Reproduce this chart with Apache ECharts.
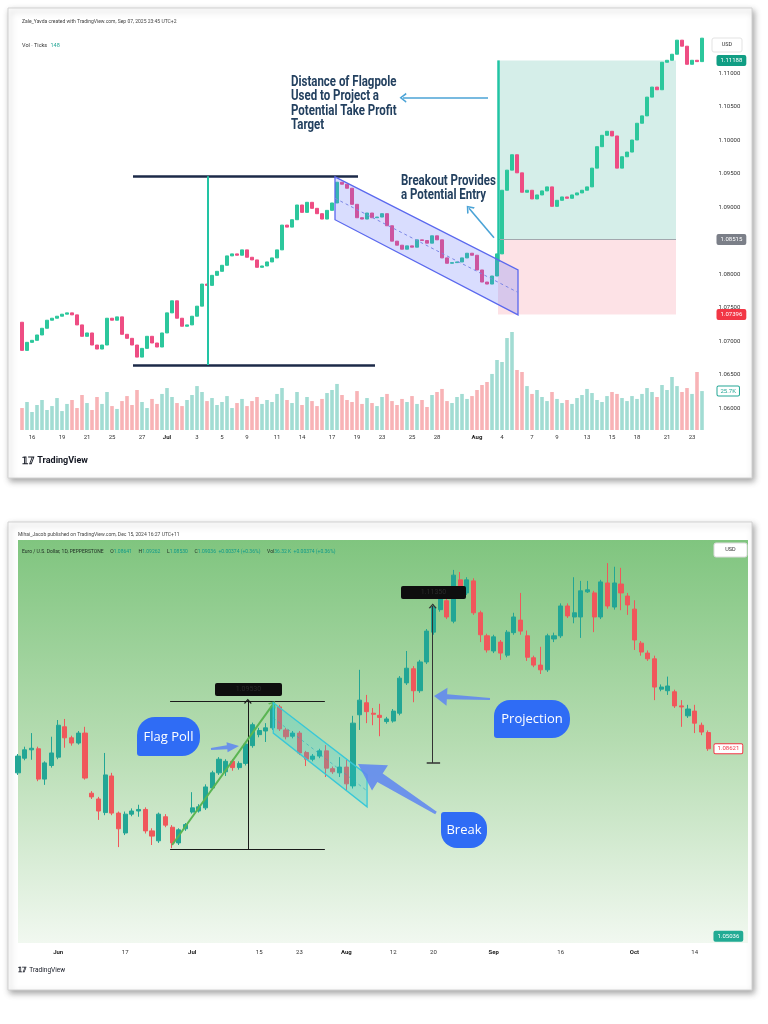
<!DOCTYPE html>
<html>
<head>
<meta charset="utf-8">
<title>Bull flag examples</title>
<script src="https://cdn.jsdelivr.net/npm/echarts@6.0.0/dist/echarts.min.js"></script>
<style>
  html, body { margin: 0; padding: 0; background: #fff; }
  #chart { width: 768px; height: 1024px; }
</style>
</head>
<body>
<div id="chart"></div>
<script>
// ---- top chart (EUR/USD, intraday) : closes, one candle ~ every 5px
var topFirstOpen = 1.0728;
var topCloses = [
  1.0686, 1.0698, 1.0701, 1.0709, 1.0719, 1.0731, 1.0734, 1.0737, 1.0740, 1.0742,
  1.0739, 1.0724, 1.0707, 1.0712, 1.0694, 1.0688, 1.0694, 1.0734, 1.0731, 1.0736,
  1.0710, 1.0704, 1.0694, 1.0676, 1.0689, 1.0707, 1.0697, 1.0691, 1.0712, 1.0742,
  1.0760, 1.0734, 1.0722, 1.0724, 1.0737, 1.0752, 1.0785, 1.0783, 1.0798, 1.0804,
  1.0813, 1.0827, 1.0830, 1.0828, 1.0836, 1.0825, 1.0821, 1.0810, 1.0812, 1.0818,
  1.0824, 1.0836, 1.0873, 1.0870, 1.0881, 1.0903, 1.0892, 1.0907, 1.0898, 1.0890,
  1.0882, 1.0895, 1.0906, 1.0937, 1.0934, 1.0928, 1.0904, 1.0884, 1.0882, 1.0891,
  1.0884, 1.0885, 1.0890, 1.0872, 1.0849, 1.0843, 1.0837, 1.0842, 1.0840, 1.0851,
  1.0850, 1.0846, 1.0857, 1.0851, 1.0824, 1.0816, 1.0817, 1.0818, 1.0824, 1.0831,
  1.0828, 1.0806, 1.0788, 1.0785, 1.0797, 1.0830, 1.0925, 1.0955, 1.0978, 1.0951,
  1.0922, 1.0925, 1.0912, 1.0918, 1.0924, 1.0930, 1.0901, 1.0910, 1.0915, 1.0913,
  1.0918, 1.0921, 1.0925, 1.0930, 1.0958, 1.0990, 1.1007, 1.1013, 1.1006, 1.0958,
  1.0975, 1.0982, 1.1000, 1.1025, 1.1036, 1.1064, 1.1079, 1.1075, 1.1116, 1.1119,
  1.1128, 1.1149, 1.1140, 1.1113, 1.1119, 1.1117, 1.1152
];
// volume in K ticks
var topVolumes = [
  14.5, 18.5, 11.9, 16.5, 19.8, 13.2, 15.8, 21.1, 12.5, 17.2,
  19.8, 14.5, 23.1, 17.8, 13.2, 21.8, 17.2, 25.1, 15.8, 13.9,
  19.1, 22.4, 16.5, 26.4, 18.5, 14.5, 20.5, 17.2, 23.8, 27.7,
  21.8, 17.8, 15.8, 19.8, 23.1, 29.0, 25.1, 19.1, 21.1, 16.5,
  18.5, 22.4, 14.5, 17.8, 20.5, 15.8, 19.1, 21.8, 17.2, 19.8,
  18.5, 23.8, 27.7, 19.8, 17.8, 25.1, 16.5, 21.8, 19.1, 15.8,
  20.5, 24.4, 26.4, 30.4, 23.1, 19.8, 18.5, 25.7, 17.2, 21.1,
  17.8, 15.8, 21.8, 23.8, 19.1, 16.5, 20.5, 18.5, 22.4, 17.2,
  19.8, 15.2, 23.1, 25.1, 27.1, 19.1, 17.8, 21.8, 23.8, 20.5,
  22.4, 26.4, 29.7, 31.7, 37.0, 46.2, 44.9, 60.7, 64.7, 39.6,
  38.3, 29.0, 23.8, 26.4, 21.8, 19.1, 25.1, 20.5, 17.8, 19.8,
  17.2, 21.1, 23.1, 27.1, 24.4, 19.8, 18.5, 22.4, 25.1, 23.8,
  21.1, 19.1, 22.4, 20.5, 23.8, 27.7, 25.1, 21.8, 29.7, 26.4,
  35.0, 29.0, 25.1, 27.7, 23.8, 38.3, 25.7
];
var topTickIdx  = [2, 8, 13, 18, 24, 29, 35, 40, 45, 51, 56, 62, 67, 72, 78, 83, 91, 96, 102, 107, 113, 118, 123, 129, 134];
var topTickText = ['16', '19', '21', '25', '27', 'Jul', '3', '5', '9', '11', '14', '17', '19', '23', '25', '28', 'Aug', '4', '7', '9', '13', '15', '18', '21', '23'];

// ---- bottom chart (EUR/USD daily) : [open, close, low, high]
var botCandles = [
  [1.0816, 1.0848, 1.0812, 1.0852], [1.0844, 1.0860, 1.0840, 1.0866], [1.0860, 1.0863, 1.0841, 1.0892],
  [1.0862, 1.0804, 1.0800, 1.0866], [1.0804, 1.0835, 1.0793, 1.0838], [1.0830, 1.0854, 1.0826, 1.0885],
  [1.0846, 1.0907, 1.0842, 1.0917], [1.0904, 1.0883, 1.0864, 1.0919], [1.0883, 1.0873, 1.0868, 1.0887],
  [1.0873, 1.0892, 1.0870, 1.0896], [1.0892, 1.0806, 1.0803, 1.0904], [1.0777, 1.0770, 1.0766, 1.0781],
  [1.0766, 1.0743, 1.0726, 1.0770], [1.0740, 1.0812, 1.0735, 1.0854], [1.0810, 1.0739, 1.0735, 1.0816],
  [1.0739, 1.0709, 1.0674, 1.0742], [1.0701, 1.0737, 1.0697, 1.0742], [1.0737, 1.0743, 1.0733, 1.0748],
  [1.0743, 1.0746, 1.0732, 1.0755], [1.0746, 1.0705, 1.0700, 1.0750], [1.0705, 1.0695, 1.0678, 1.0710],
  [1.0686, 1.0737, 1.0682, 1.0740], [1.0732, 1.0716, 1.0712, 1.0737], [1.0712, 1.0682, 1.0672, 1.0716],
  [1.0682, 1.0707, 1.0678, 1.0710], [1.0709, 1.0717, 1.0705, 1.0720], [1.0741, 1.0749, 1.0738, 1.0779],
  [1.0743, 1.0751, 1.0740, 1.0756], [1.0749, 1.0789, 1.0745, 1.0794], [1.0787, 1.0816, 1.0783, 1.0820],
  [1.0816, 1.0842, 1.0812, 1.0846], [1.0818, 1.0838, 1.0810, 1.0842], [1.0838, 1.0826, 1.0820, 1.0842],
  [1.0826, 1.0834, 1.0822, 1.0838], [1.0834, 1.0871, 1.0830, 1.0875], [1.0868, 1.0908, 1.0864, 1.0912],
  [1.0889, 1.0897, 1.0884, 1.0902], [1.0896, 1.0902, 1.0875, 1.0911], [1.0902, 1.0942, 1.0898, 1.0950],
  [1.0942, 1.0900, 1.0896, 1.0946], [1.0898, 1.0885, 1.0880, 1.0902], [1.0886, 1.0892, 1.0882, 1.0896],
  [1.0892, 1.0854, 1.0850, 1.0896], [1.0855, 1.0842, 1.0829, 1.0858], [1.0842, 1.0848, 1.0838, 1.0852],
  [1.0848, 1.0858, 1.0844, 1.0862], [1.0858, 1.0825, 1.0808, 1.0869], [1.0824, 1.0818, 1.0814, 1.0828],
  [1.0816, 1.0827, 1.0808, 1.0846], [1.0827, 1.0795, 1.0783, 1.0841], [1.0791, 1.0911, 1.0786, 1.0925],
  [1.0927, 1.0955, 1.0898, 1.1013], [1.0950, 1.0933, 1.0911, 1.0965], [1.0930, 1.0928, 1.0907, 1.0940],
  [1.0926, 1.0922, 1.0886, 1.0948], [1.0914, 1.0919, 1.0910, 1.0923], [1.0915, 1.0934, 1.0912, 1.0938],
  [1.0930, 1.0997, 1.0926, 1.1001], [1.0988, 1.1016, 1.0984, 1.1049], [1.1015, 1.0973, 1.0951, 1.1020],
  [1.0973, 1.1028, 1.0969, 1.1032], [1.1028, 1.1087, 1.1024, 1.1091], [1.1085, 1.1133, 1.1080, 1.1138],
  [1.1128, 1.1152, 1.1124, 1.1160], [1.1145, 1.1114, 1.1110, 1.1150], [1.1106, 1.1194, 1.1102, 1.1204],
  [1.1185, 1.1162, 1.1158, 1.1200], [1.1160, 1.1185, 1.1156, 1.1190], [1.1183, 1.1122, 1.1118, 1.1188],
  [1.1122, 1.1080, 1.1066, 1.1126], [1.1078, 1.1051, 1.1046, 1.1082], [1.1049, 1.1076, 1.1045, 1.1080],
  [1.1066, 1.1045, 1.1032, 1.1070], [1.1041, 1.1085, 1.1037, 1.1089], [1.1084, 1.1114, 1.1080, 1.1122],
  [1.1108, 1.1087, 1.1080, 1.1160], [1.1078, 1.1037, 1.1030, 1.1088], [1.1036, 1.1022, 1.1018, 1.1040],
  [1.1022, 1.1013, 1.1005, 1.1057], [1.1013, 1.1078, 1.1009, 1.1082], [1.1072, 1.1078, 1.1066, 1.1084],
  [1.1078, 1.1135, 1.1074, 1.1140], [1.1135, 1.1116, 1.1112, 1.1140], [1.1114, 1.1122, 1.1102, 1.1190],
  [1.1114, 1.1164, 1.1074, 1.1183], [1.1162, 1.1166, 1.1160, 1.1183], [1.1160, 1.1114, 1.1085, 1.1164],
  [1.1114, 1.1181, 1.1110, 1.1185], [1.1179, 1.1135, 1.1130, 1.1217], [1.1133, 1.1179, 1.1128, 1.1210],
  [1.1177, 1.1160, 1.1127, 1.1208], [1.1154, 1.1137, 1.1118, 1.1160], [1.1129, 1.1070, 1.1051, 1.1146],
  [1.1064, 1.1047, 1.1040, 1.1068], [1.1045, 1.1034, 1.1030, 1.1050], [1.1034, 1.0980, 1.0955, 1.1040],
  [1.0976, 1.0980, 1.0972, 1.0985], [1.0973, 1.0982, 1.0965, 1.1000], [1.0971, 1.0944, 1.0940, 1.0975],
  [1.0944, 1.0942, 1.0904, 1.0955], [1.0925, 1.0938, 1.0921, 1.0946], [1.0934, 1.0911, 1.0892, 1.0946],
  [1.0907, 1.0894, 1.0888, 1.0912], [1.0893, 1.0862, 1.0858, 1.0897]
];
var botTickIdx  = [6, 16, 26, 36, 42, 49, 56, 62, 71, 81, 92, 101];
var botTickText = ['Jun', '17', 'Jul', '15', '23', 'Aug', '12', '20', 'Sep', '16', 'Oct', '14'];

// drawings (x in candle index, y in price)
var topDraw = {
  poleTop: 1.0946, poleBottom: 1.0664, poleX: 37.2, barFrom: 22.2, barTopTo: 67.2, barBottomTo: 70.6,
  channel: [[62.6, 1.0945], [99.2, 1.0806], [99.2, 1.0739], [62.6, 1.0881]],
  target: 1.11188, entry: 1.08515, stop: 1.07396, posFrom: 95.2, posTo: 130.8, projBottom: 1.0818,
  arrow1: [[93.2, 1.1063], [76.2, 1.1063]], arrow2: [[94.4, 1.0854], [89.4, 1.0898]]
};
var botDraw = {
  poleLow: 1.0670, poleHigh: 1.0953, barFrom: 22.7, barTo: 45.8, measureX: 34.3,
  green: [[23.0, 1.0678], [38.1, 1.0948]],
  channel: [[38.1, 1.0950], [52.1, 1.0812], [52.1, 1.0751], [38.1, 1.0892]],
  projX: 61.9, projLow: 1.0835, projHigh: 1.1135, capFrom: 61.0, capTo: 63.0,
  lastPrice: 1.08621, lowTag: 1.05036
};

// ---------------------------------------------------------------
var UP = '#2cc79c', DOWN = '#ee4d83';
var UP2 = '#22a695', DOWN2 = '#f0575b';
var FONT = 'Roboto';

var topOHLC = topCloses.map(function (c, i) {
  var o = i === 0 ? topFirstOpen : topCloses[i - 1];
  return [o, c, Math.min(o, c), Math.max(o, c)];
});
var topVolData = topVolumes.map(function (v, i) {
  var up = topOHLC[i][1] >= topOHLC[i][0];
  return { value: v, itemStyle: { color: up ? '#a2dcd3' : '#f8b3b6' } };
});
var topCats = [];
for (var i = 0; i < topCloses.length + 2; i++) topCats.push(String(i));
var botCats = botCandles.map(function (d, i) { return String(i); });

function tickMap(idx, text) {
  var m = {};
  idx.forEach(function (k, j) { m[k] = text[j]; });
  return m;
}
var topTicks = tickMap(topTickIdx, topTickText);
var botTicks = tickMap(botTickIdx, botTickText);
var months = { Jun: 1, Jul: 1, Aug: 1, Sep: 1, Oct: 1 };
function tickLabel(map) {
  return function (val) {
    var t = map[+val];
    if (t == null) return '';
    return months[t] ? '{m|' + t + '}' : t;
  };
}

var chevron = 'path://M0,10 L5,0 L10,10 L8.4,10.9 L5,3.7 L1.6,10.9 Z';
function seg(a, b, color, width, head, size) {
  return [
    { coord: a, symbol: 'none', lineStyle: { color: color, width: width, type: 'solid', opacity: 1 } },
    { coord: b, symbol: head ? chevron : 'none', symbolSize: head ? (size || [10, 7]) : 0 }
  ];
}
function priceTag(v, bg, fg, border, text) {
  return {
    yAxis: v, symbol: 'none',
    lineStyle: { color: 'rgba(0,0,0,0)', width: 1 },
    label: {
      show: true, position: 'end', formatter: text || v.toFixed(5), color: fg,
      backgroundColor: bg, borderColor: border || bg, borderWidth: 1, borderRadius: 1,
      padding: [2, 3, 1, 3], fontSize: 6, distance: 3, fontFamily: FONT
    }
  };
}
function channelRender(corners, fill, stroke, mid) {
  return function (params, api) {
    var pts = corners.map(function (p) { return api.coord(p); });
    var m1 = api.coord([corners[0][0], (corners[0][1] + corners[3][1]) / 2]);
    var m2 = api.coord([corners[1][0], (corners[1][1] + corners[2][1]) / 2]);
    return {
      type: 'group', children: [
        { type: 'polygon', shape: { points: pts }, style: { fill: fill, stroke: stroke, lineWidth: 1.3 } },
        { type: 'line', shape: { x1: m1[0], y1: m1[1], x2: m2[0], y2: m2[1] },
          style: { stroke: mid, lineWidth: 1, lineDash: [3, 3] } }
      ]
    };
  };
}
function fatArrow(tail, tip, headLen, headW, wTail, wHead) {
  var dx = tip[0] - tail[0], dy = tip[1] - tail[1], L = Math.sqrt(dx * dx + dy * dy);
  var ux = dx / L, uy = dy / L, nx = -uy, ny = ux;
  var bx = tip[0] - ux * headLen, by = tip[1] - uy * headLen;
  return [
    [tail[0] + nx * wTail / 2, tail[1] + ny * wTail / 2],
    [bx + nx * wHead / 2, by + ny * wHead / 2],
    [bx + nx * headW / 2, by + ny * headW / 2],
    tip,
    [bx - nx * headW / 2, by - ny * headW / 2],
    [bx - nx * wHead / 2, by - ny * wHead / 2],
    [tail[0] - nx * wTail / 2, tail[1] - ny * wTail / 2]
  ];
}

var T = topDraw, B = botDraw;
var NAVY = '#1c2a48', BLUE = '#4ba3d6', TEAL = '#22c4a4', BLACK = '#1a1a1a';
var arrowFill = 'rgba(96,136,240,0.88)';
var annoFont = 'bold 14px ' + FONT;
var bubble = '#2f6cf5';

var chart = echarts.init(document.getElementById('chart'));
var option = {
  animation: false,
  backgroundColor: '#ffffff',
  textStyle: { fontFamily: FONT },
  grid: [
    { left: 19.5, top: 6, width: 695, height: 435.5 },            // top price
    { left: 19.5, top: 330, width: 695, height: 100 },            // top volume
    { left: 14.65, top: 545.85, width: 696.8, height: 392.25 }    // bottom price
  ],
  xAxis: [
    { type: 'category', gridIndex: 0, data: topCats, show: false },
    { type: 'category', gridIndex: 1, data: topCats,
      axisLine: { show: false }, axisTick: { show: false }, splitLine: { show: false },
      axisLabel: { interval: function (i) { return topTicks[i] != null; }, formatter: tickLabel(topTicks),
        fontSize: 6, color: '#333', margin: 4, rich: { m: { fontSize: 6, fontWeight: 'bold', color: '#222' } } } },
    { type: 'value', gridIndex: 0, min: -0.5, max: topCats.length - 0.5, show: false },
    { type: 'category', gridIndex: 2, data: botCats,
      axisLine: { show: false }, axisTick: { show: false },
      splitLine: { show: true, interval: function (i) { return botTicks[i] != null; },
        lineStyle: { color: 'rgba(255,255,255,0.28)', width: 1 } },
      axisLabel: { interval: function (i) { return botTicks[i] != null; }, formatter: tickLabel(botTicks),
        fontSize: 6, color: '#333', margin: 11, rich: { m: { fontSize: 6, fontWeight: 'bold', color: '#222' } } } },
    { type: 'value', gridIndex: 2, min: -0.5, max: botCats.length - 0.5, show: false }
  ],
  yAxis: [
    { type: 'value', gridIndex: 0, position: 'right', min: 1.055, max: 1.12, interval: 0.005,
      axisLine: { show: false }, axisTick: { show: false }, splitLine: { show: false },
      axisLabel: { fontSize: 6, color: '#333', margin: 4,
        formatter: function (v) { return (v < 1.0595 || v > 1.1105) ? '' : v.toFixed(5); } } },
    { type: 'value', gridIndex: 1, min: 0, max: 66, show: false },
    { type: 'value', gridIndex: 2, position: 'right', min: 1.05, max: 1.125, interval: 0.005,
      axisLine: { show: false }, axisTick: { show: false },
      splitLine: { show: true, lineStyle: { color: 'rgba(255,255,255,0.28)', width: 1 } },
      axisLabel: { fontSize: 6, color: '#333', margin: 5,
        formatter: function (v) { return (v < 1.0545 || v > 1.1205) ? '' : v.toFixed(5); } } }
  ],
  series: [
    // position tool (under candles)
    { type: 'custom', xAxisIndex: 2, yAxisIndex: 0, z: 1, data: [[0, 1.09]],
      renderItem: function () { return { type: 'group', children: [] }; },
      markArea: { silent: true, data: [
        [{ coord: [T.posFrom, T.target], itemStyle: { color: 'rgba(34,166,140,0.19)' } }, { coord: [T.posTo, T.entry] }],
        [{ coord: [T.posFrom, T.entry], itemStyle: { color: 'rgba(244,82,104,0.17)' } }, { coord: [T.posTo, T.stop] }]
      ] },
      markLine: { silent: true, precision: 6, symbol: ['none', 'none'], label: { show: false },
        data: [seg([T.posFrom, T.entry], [T.posTo, T.entry], '#a3a7ae', 1)] }
    },
    { type: 'candlestick', xAxisIndex: 0, yAxisIndex: 0, z: 2, data: topOHLC, barWidth: 2.6,
      itemStyle: { color: UP, color0: DOWN, borderColor: UP, borderColor0: DOWN, borderWidth: 1 } },
    { type: 'bar', xAxisIndex: 1, yAxisIndex: 1, data: topVolData, barWidth: 3.6,
      markLine: { silent: true, precision: 2, symbol: ['none', 'none'],
        data: [priceTag(topVolumes[topVolumes.length - 1], '#ffffff', '#22a695', '#22a695', '25.7K')] } },
    // flag channel + drawings
    { type: 'custom', xAxisIndex: 2, yAxisIndex: 0, z: 5, data: [[0, 1.09]],
      renderItem: channelRender(T.channel, 'rgba(96,112,250,0.24)', '#5a68ee', '#7b86e6'),
      markLine: { silent: true, precision: 6, symbol: ['none', 'none'], label: { show: false }, data: [
        seg([T.barFrom, T.poleTop], [T.barTopTo, T.poleTop], NAVY, 2.5),
        seg([T.barFrom, T.poleBottom], [T.barBottomTo, T.poleBottom], NAVY, 2.5),
        seg([T.poleX, T.poleTop], [T.poleX, T.poleBottom], TEAL, 2),
        seg([T.posFrom, T.target], [T.posFrom, T.projBottom], TEAL, 2.5),
        seg(T.arrow1[0], T.arrow1[1], BLUE, 1.6, true),
        seg(T.arrow2[0], T.arrow2[1], BLUE, 1.6, true),
        priceTag(T.target, '#119e84', '#fff'),
        priceTag(T.entry, '#7b7f88', '#fff'),
        priceTag(T.stop, '#f23645', '#fff')
      ] }
    },
    { type: 'candlestick', xAxisIndex: 3, yAxisIndex: 2, z: 2, data: botCandles, barWidth: 4.6,
      itemStyle: { color: UP2, color0: DOWN2, borderColor: UP2, borderColor0: DOWN2, borderWidth: 1 } },
    { type: 'custom', xAxisIndex: 4, yAxisIndex: 2, z: 5, data: [[0, 1.09]],
      renderItem: channelRender(B.channel, 'rgba(40,205,215,0.25)', '#38c8d8', 'rgba(40,170,190,0.6)'),
      markLine: { silent: true, precision: 6, symbol: ['none', 'none'], label: { show: false }, data: [
        seg([B.barFrom, B.poleHigh], [B.barTo, B.poleHigh], BLACK, 1),
        seg([B.barFrom, B.poleLow], [B.barTo, B.poleLow], BLACK, 1),
        seg([B.measureX, B.poleLow], [B.measureX, B.poleHigh], BLACK, 1, true, [8, 5]),
        seg(B.green[0], B.green[1], '#5ab552', 2, true, [9, 6]),
        seg([B.projX, B.projLow], [B.projX, B.projHigh], '#333', 1, true, [8, 5]),
        seg([B.capFrom, B.projLow], [B.capTo, B.projLow], '#333', 1.5),
        priceTag(B.lastPrice, '#ffffff', '#f23645', '#f23645'),
        priceTag(B.lowTag, '#22ab94', '#fff')
      ] }
    }
  ],
  graphic: { elements: [
    // frames
    { type: 'rect', z: 0, shape: { x: 8, y: 8, width: 744, height: 470 },
      style: { fill: '#fff', stroke: '#d2d2d2', lineWidth: 1, shadowBlur: 6, shadowOffsetX: 2, shadowOffsetY: 3, shadowColor: 'rgba(0,0,0,0.35)' } },
    { type: 'rect', z: 0, shape: { x: 8, y: 522, width: 744, height: 468 },
      style: { fill: '#fff', stroke: '#d2d2d2', lineWidth: 1, shadowBlur: 6, shadowOffsetX: 2, shadowOffsetY: 3, shadowColor: 'rgba(0,0,0,0.35)' } },
    { type: 'rect', z: 1, shape: { x: 18, y: 540, width: 730, height: 403 },
      style: { fill: new echarts.graphic.LinearGradient(0, 0, 0, 1, [
        { offset: 0, color: '#80c57f' }, { offset: 0.5, color: '#b5dcb1' }, { offset: 1, color: '#f1f8f0' }]) } },

    // top header / footer
    { type: 'text', z: 10, x: 22, y: 19, style: { text: 'Zale_Yavda created with TradingView.com, Sep 07, 2025 23:45 UTC+2', font: '5px ' + FONT, fill: '#444' } },
    { type: 'text', z: 10, x: 22, y: 40, style: { text: '{a|Vol · Ticks} {b|148}', rich: { a: { font: '5.5px ' + FONT, fill: '#333' }, b: { font: '5.5px ' + FONT, fill: '#22a695' } } } },
    { type: 'rect', z: 10, shape: { x: 712, y: 38, width: 30, height: 14, r: 2 }, style: { fill: '#fff', stroke: '#e3e3e3' } },
    { type: 'text', z: 11, x: 727, y: 45, style: { text: 'USD', font: '5.5px ' + FONT, fill: '#333', align: 'center', verticalAlign: 'middle' } },
    { type: 'text', z: 10, x: 22, y: 455, style: { text: '{l|𝟙𝟟} {n|TradingView}', rich: { l: { font: 'bold 10px ' + FONT, fill: '#131722' }, n: { font: 'bold 9px ' + FONT, fill: '#131722' } } } },

    // bottom header / footer
    { type: 'text', z: 10, x: 18, y: 532, style: { text: 'Mihai_Jacob published on TradingView.com, Dec 15, 2024 16:27 UTC+11', font: '5px ' + FONT, fill: '#444' } },
    { type: 'text', z: 10, x: 22, y: 546, style: {
      text: '{a|Euro / U.S. Dollar, 1D, PEPPERSTONE}  {a|O}{b|1.08641}  {a|H}{b|1.09262}  {a|L}{b|1.08530}  {a|C}{b|1.09036  +0.00374 (+0.36%)}  {a|Vol}{b|36.32 K  +0.00374 (+0.36%)}',
      rich: { a: { font: '5px ' + FONT, fill: '#1e2a22' }, b: { font: '5px ' + FONT, fill: '#0f9a8a' } } } },
    { type: 'rect', z: 10, shape: { x: 714, y: 543, width: 33, height: 14, r: 2 }, style: { fill: '#fff', stroke: '#dcdcdc' } },
    { type: 'text', z: 11, x: 730.5, y: 550, style: { text: 'USD', font: '5.5px ' + FONT, fill: '#333', align: 'center', verticalAlign: 'middle' } },
    { type: 'text', z: 10, x: 18, y: 964, style: { text: '{l|𝟙𝟟} {n|TradingView}', rich: { l: { font: 'bold 7px ' + FONT, fill: '#131722' }, n: { font: '6.5px ' + FONT, fill: '#131722' } } } },

    // top chart notes
    { type: 'text', z: 20, x: 291, y: 75, scaleX: 0.82, style: { text: 'Distance of Flagpole\nUsed to Project a\nPotential Take Profit\nTarget', font: annoFont, lineHeight: 14.5, fill: '#23405f' } },
    { type: 'text', z: 20, x: 401, y: 174, scaleX: 0.82, style: { text: 'Breakout Provides\na Potential Entry', font: annoFont, lineHeight: 14.5, fill: '#23405f' } },

    // bottom chart notes
    { type: 'rect', z: 20, shape: { x: 215, y: 683, width: 67, height: 13, r: 2 }, style: { fill: '#0e0e0e' } },
    { type: 'text', z: 21, x: 248.5, y: 689.5, style: { text: '1.09530', font: '7px ' + FONT, fill: '#2a2a2a', align: 'center', verticalAlign: 'middle' } },
    { type: 'rect', z: 20, shape: { x: 401, y: 586, width: 65, height: 13, r: 2 }, style: { fill: '#0e0e0e' } },
    { type: 'text', z: 21, x: 433.5, y: 592.5, style: { text: '1.11350', font: '7px ' + FONT, fill: '#2a2a2a', align: 'center', verticalAlign: 'middle' } },

    { type: 'polygon', z: 20, shape: { points: fatArrow([211, 749], [239, 746], 12, 10, 2, 4) }, style: { fill: arrowFill } },
    { type: 'polygon', z: 20, shape: { points: fatArrow([490, 699], [434, 696], 13, 18, 2, 5) }, style: { fill: arrowFill } },
    { type: 'polygon', z: 20, shape: { points: fatArrow([436, 813], [358, 764], 26, 30, 3, 10) }, style: { fill: arrowFill } },

    { type: 'rect', z: 21, shape: { x: 137, y: 717, width: 63, height: 39, r: [18, 18, 18, 3] }, style: { fill: bubble } },
    { type: 'text', z: 22, x: 168.5, y: 737, style: { text: 'Flag Poll', font: '13px "Open Sans"', fill: '#fff', align: 'center', verticalAlign: 'middle' } },
    { type: 'rect', z: 21, shape: { x: 494, y: 700, width: 76, height: 38, r: [16, 18, 18, 3] }, style: { fill: bubble } },
    { type: 'text', z: 22, x: 532, y: 719.5, style: { text: 'Projection', font: '13px "Open Sans"', fill: '#fff', align: 'center', verticalAlign: 'middle' } },
    { type: 'rect', z: 21, shape: { x: 441, y: 812, width: 46, height: 36, r: [3, 16, 16, 16] }, style: { fill: bubble } },
    { type: 'text', z: 22, x: 464, y: 830.5, style: { text: 'Break', font: '13px "Open Sans"', fill: '#fff', align: 'center', verticalAlign: 'middle' } }
  ] }
};
chart.setOption(option);
</script>
</body>
</html>
